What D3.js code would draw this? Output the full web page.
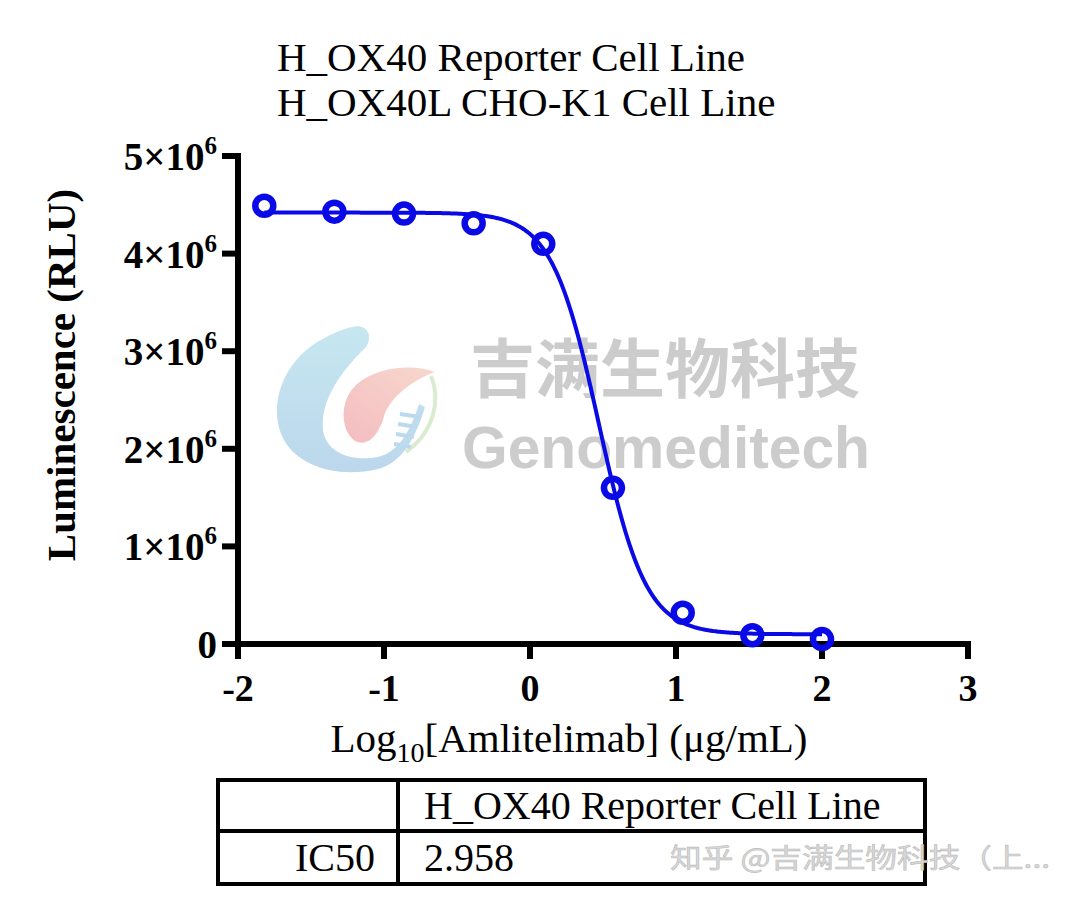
<!DOCTYPE html>
<html><head><meta charset="utf-8">
<script src="https://cdn.jsdelivr.net/npm/d3@7"></script>
<style>body{margin:0;background:#fff}svg{display:block}</style>
</head><body>
<svg id="c" width="1080" height="908"></svg>
<script>
// ---- data ----
const titleLines = ["H_OX40 Reporter Cell Line", "H_OX40L CHO-K1 Cell Line"];
const logDose = [-1.82, -1.34, -0.863, -0.386, 0.091, 0.568, 1.046, 1.523, 2.0];
const luminescence = [4.49e6, 4.43e6, 4.41e6, 4.31e6, 4.10e6, 1.60e6, 0.32e6, 0.09e6, 0.05e6];
// 4PL fit parameters
const fitTop = 4.42e6, fitBottom = 0.10e6, fitLogIC50 = Math.log10(2.958), fitHill = 2.7;
const xTicks = [-2, -1, 0, 1, 2, 3];
const yTicks = [0, 1e6, 2e6, 3e6, 4e6, 5e6];
const tableHeader = ["", "H_OX40 Reporter Cell Line"];
const tableRow = ["IC50", "2.958"];

const svg = d3.select("#c");
const serif = "'Liberation Serif','Times New Roman',serif";
const blue = "#0a0ae6";

const x = d3.scaleLinear().domain([-2, 3]).range([238, 968]);
const y = d3.scaleLinear().domain([0, 5e6]).range([644, 156]);

// ---- watermark ----
const wm = svg.append("g");
const defs = svg.append("defs");
const gb = defs.append("linearGradient").attr("id","gb").attr("x1",0).attr("y1",0).attr("x2",0).attr("y2",1);
gb.append("stop").attr("offset",0).attr("stop-color","#c6e7f0");
gb.append("stop").attr("offset",1).attr("stop-color","#bcd7ec");
const gp = defs.append("linearGradient").attr("id","gp").attr("x1",1).attr("y1",0).attr("x2",0).attr("y2",1);
gp.append("stop").attr("offset",0).attr("stop-color","#f7d8cd");
gp.append("stop").attr("offset",1).attr("stop-color","#f4bcc0");
// blue C swirl
wm.append("path").attr("fill","url(#gb)")
  .attr("d","M352,327 C366,323 374,335 366,347 C342,370 320,400 323,430 C326,452 350,462 378,457 C395,453 408,438 419,404 L425,407 C415,440 401,463 378,469 C340,478 300,468 284,440 C268,410 280,370 310,347 C325,336 340,330 352,327 Z");
// pink drop
wm.append("path").attr("fill","url(#gp)")
  .attr("d","M435,372 C418,365 381,364 357,384 C339,400 340,430 355,441 C369,448 380,432 384,416 C391,396 413,380 435,372 Z");
// green arc
wm.append("path").attr("fill","none").attr("stroke","#d9ecd0").attr("stroke-width",4)
  .attr("d","M431,376 C441,400 434,432 406,452");
// rungs
[414, 424, 434, 444].forEach(yy=>{
  wm.append("line").attr("x1",400 + (yy-414)*-0.2).attr("y1",yy).attr("x2",420 + (yy-414)*-0.3).attr("y2",yy+3)
    .attr("stroke","#bcd9ee").attr("stroke-width",4);
});
wm.append("text").attr("x", 470).attr("y", 392).attr("font-family","'Noto Sans CJK SC',sans-serif")
  .attr("font-weight","bold").attr("font-size",64).attr("fill","#cccccc")
  .attr("textLength",390).attr("lengthAdjust","spacingAndGlyphs").text("吉满生物科技");
wm.append("text").attr("x", 462).attr("y", 468).attr("font-family","'Liberation Sans',Arial,sans-serif")
  .attr("font-weight","bold").attr("font-size",60).attr("fill","#cccccc")
  .attr("textLength",408).attr("lengthAdjust","spacingAndGlyphs").text("Genomeditech");

// ---- title ----
svg.append("g").selectAll("text").data(titleLines).join("text")
  .attr("x", 277).attr("y", (d,i)=> 71 + i*45)
  .attr("font-family", serif).attr("font-size", 41).attr("fill","#000").text(d=>d);

// ---- axes ----
const axW = 6;
svg.append("line").attr("x1", x(-2)).attr("x2", x(-2)).attr("y1", y(5e6)-3).attr("y2", y(0)+14)
  .attr("stroke","#000").attr("stroke-width",axW);
svg.append("line").attr("x1", x(-2)-14).attr("x2", x(3)+3).attr("y1", y(0)).attr("y2", y(0))
  .attr("stroke","#000").attr("stroke-width",axW);

const yg = svg.append("g");
yg.selectAll("line").data(yTicks).join("line")
  .attr("x1", x(-2)-16).attr("x2", x(-2)).attr("y1", d=>y(d)).attr("y2", d=>y(d))
  .attr("stroke","#000").attr("stroke-width",axW);
yg.selectAll("text").data(yTicks).join("text")
  .attr("x", 217).attr("y", d=>y(d)+14).attr("text-anchor","end")
  .attr("font-family", serif).attr("font-weight","bold").attr("font-size",39).attr("fill","#000")
  .each(function(d){
    const t = d3.select(this);
    if (d === 0) { t.text("0"); return; }
    t.append("tspan").text((d/1e6) + "×10");
    t.append("tspan").attr("dy",-16).attr("font-size",25).text("6");
  });

const xg = svg.append("g");
xg.selectAll("line").data(xTicks).join("line")
  .attr("x1", d=>x(d)).attr("x2", d=>x(d)).attr("y1", y(0)).attr("y2", y(0)+15)
  .attr("stroke","#000").attr("stroke-width",axW);
xg.selectAll("text").data(xTicks).join("text")
  .attr("x", d=>x(d)).attr("y", 701).attr("text-anchor","middle")
  .attr("font-family", serif).attr("font-weight","bold").attr("font-size",38).attr("fill","#000")
  .text(d=>d);

// axis titles
const xt = svg.append("text").attr("x", 569).attr("y", 752).attr("text-anchor","middle")
  .attr("font-family", serif).attr("font-size",41).attr("fill","#000");
xt.append("tspan").text("Log");
xt.append("tspan").attr("dy",10).attr("font-size",28).text("10");
xt.append("tspan").attr("dy",-10).text("[Amlitelimab] (μg/mL)");

svg.append("text").attr("transform","translate(75,375) rotate(-90)").attr("text-anchor","middle")
  .attr("font-family", serif).attr("font-weight","bold").attr("font-size",41).attr("fill","#000")
  .text("Luminescence (RLU)");

// ---- fit curve ----
const fx = d3.range(logDose[0], logDose[logDose.length-1] + 0.001, 0.01);
const f = v => fitBottom + (fitTop - fitBottom) / (1 + Math.pow(10, (v - fitLogIC50) * fitHill));
svg.append("path").datum(fx)
  .attr("d", d3.line().x(d=>x(d)).y(d=>y(f(d))))
  .attr("fill","none").attr("stroke", blue).attr("stroke-width",4);

// ---- points ----
svg.append("g").selectAll("circle").data(logDose).join("circle")
  .attr("cx", d=>x(d)).attr("cy", (d,i)=>y(luminescence[i])).attr("r", 9)
  .attr("fill","none").attr("stroke", blue).attr("stroke-width",6.5);

// ---- table ----
const tb = svg.append("g");
const tL = 218, tR = 925, tC = 398, tT = 780, tM = 831, tB = 884;
tb.append("rect").attr("x",tL).attr("y",tT).attr("width",tR-tL).attr("height",tB-tT)
  .attr("fill","none").attr("stroke","#000").attr("stroke-width",4);
tb.append("line").attr("x1",tL).attr("x2",tR).attr("y1",tM).attr("y2",tM).attr("stroke","#000").attr("stroke-width",4);
tb.append("line").attr("x1",tC).attr("x2",tC).attr("y1",tT).attr("y2",tB).attr("stroke","#000").attr("stroke-width",4);
tb.append("text").attr("x",424).attr("y",819).attr("font-family",serif).attr("font-size",40).text(tableHeader[1]);
tb.append("text").attr("x",375).attr("y",871).attr("text-anchor","end").attr("font-family",serif).attr("font-size",40).text(tableRow[0]);
tb.append("text").attr("x",424).attr("y",871).attr("font-family",serif).attr("font-size",40).text(tableRow[1]);

// zhihu watermark
svg.append("text").attr("x",670).attr("y",868).attr("font-family","'Noto Sans CJK SC',sans-serif")
  .attr("font-size",27).attr("fill","#d8d8d8").attr("stroke","#bdbdbd").attr("stroke-width",0.6)
  .attr("textLength",380).attr("lengthAdjust","spacingAndGlyphs")
  .text("知乎 @吉满生物科技（上...");
</script>
</body></html>
